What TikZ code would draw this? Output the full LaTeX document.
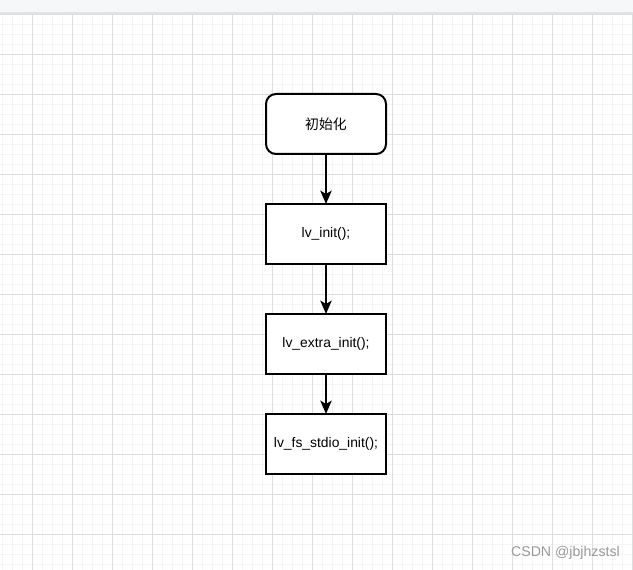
\documentclass[tikz,border=0pt]{standalone}
\usepackage{fontspec}
\setmainfont{Liberation Sans}
\newfontfamily\cjkfont{Noto Sans CJK SC}
\usetikzlibrary{arrows.meta,positioning}
\definecolor{gridminor}{HTML}{F4F4F4}
\definecolor{gridmajor}{HTML}{DEDEDE}
\definecolor{topbar}{HTML}{F6F7F9}
\definecolor{topline}{HTML}{E2E3E6}
\definecolor{markgray}{HTML}{999999}
\tikzset{
    flowbox/.style={draw, line width=1.5pt, fill=white, minimum width=90pt, minimum height=45pt,
        inner sep=0pt, outer sep=0pt, font=\fontsize{10.4}{12}\selectfont},
    startbox/.style={flowbox, rounded corners=7.5pt},
    flowarrow/.style={line width=1.5pt, -{Stealth[length=10pt, width=8.5pt, inset=2.5pt]}}
}
\begin{document}
\begin{tikzpicture}[x=0.75pt, y=-0.75pt]
    \useasboundingbox (0,0) rectangle (633,570);
    \fill[white] (0,0) rectangle (633,570);
    % grid
    \foreach \gx in {2.3,12.3,...,633} \draw[gridminor, line width=0.75pt] (\gx,13) -- (\gx,570);
    \foreach \gy in {14.3,24.3,...,570} \draw[gridminor, line width=0.75pt] (0,\gy) -- (633,\gy);
    \foreach \gx in {32.3,72.3,...,633} \draw[gridmajor, line width=0.75pt] (\gx,13) -- (\gx,570);
    \foreach \gy in {14.3,54.3,...,570} \draw[gridmajor, line width=0.75pt] (0,\gy) -- (633,\gy);
    \fill[topbar] (0,0) rectangle (633,12.5);
    \draw[topline, line width=1pt] (0,13) -- (633,13);

    \node[startbox] (init) at (326,124) {\cjkfont 初始化};
    \node[flowbox, below=37.5pt of init] (lvinit) {lv\_init();};
    \node[flowbox, below=37.5pt of lvinit] (extra) {lv\_extra\_init();};
    \node[flowbox, below=30pt of extra] (stdio) {lv\_fs\_stdio\_init();};

    \draw[flowarrow] (init) -- (lvinit);
    \draw[flowarrow] (lvinit) -- (extra);
    \draw[flowarrow] (extra) -- (stdio);

    \node[anchor=east, inner sep=0pt, text=markgray, font=\fontsize{10.6}{12}\selectfont] (mark) at (620,553) {CSDN @jbjhzstsl};
\end{tikzpicture}
\end{document}
